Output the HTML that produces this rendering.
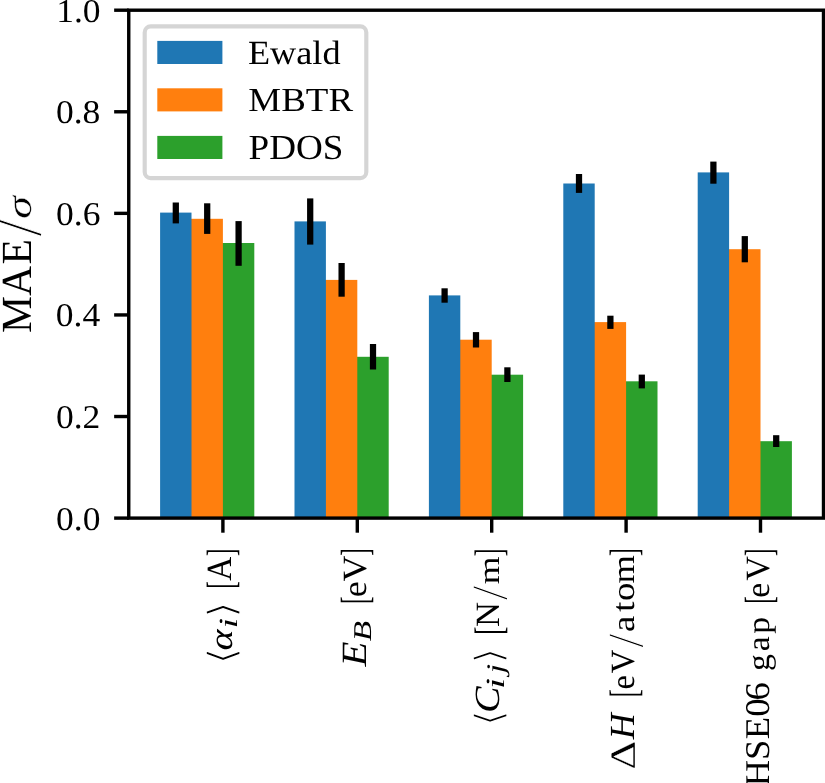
<!DOCTYPE html>
<html lang="en"><head><meta charset="utf-8"><title>MAE/σ bar chart</title>
<style>html,body{margin:0;padding:0;background:#fff}svg{display:block}text{fill:#000;text-rendering:geometricPrecision}</style></head><body>
<svg width="825" height="783" viewBox="0 0 825 783" role="img" aria-label="Bar chart of MAE/σ for Ewald, MBTR and PDOS descriptors">
<rect width="825" height="783" fill="#fff"/>
<rect x="221.9" y="243" width="32.4" height="275.1" fill="#2ca02c"/>
<rect x="190.5" y="218.8" width="32.4" height="299.3" fill="#ff7f0e"/>
<rect x="160.1" y="212.6" width="31.4" height="305.5" fill="#1f77b4"/>
<rect x="356.3" y="356.8" width="32.4" height="161.3" fill="#2ca02c"/>
<rect x="324.9" y="279.9" width="32.4" height="238.2" fill="#ff7f0e"/>
<rect x="294.5" y="221.4" width="31.4" height="296.7" fill="#1f77b4"/>
<rect x="490.7" y="374.7" width="32.4" height="143.4" fill="#2ca02c"/>
<rect x="459.3" y="339.7" width="32.4" height="178.4" fill="#ff7f0e"/>
<rect x="428.9" y="295.4" width="31.4" height="222.7" fill="#1f77b4"/>
<rect x="625.1" y="381.3" width="32.4" height="136.8" fill="#2ca02c"/>
<rect x="593.7" y="322.1" width="32.4" height="196" fill="#ff7f0e"/>
<rect x="563.3" y="183.5" width="31.4" height="334.6" fill="#1f77b4"/>
<rect x="759.5" y="441.2" width="32.4" height="76.9" fill="#2ca02c"/>
<rect x="728.1" y="249.2" width="32.4" height="268.9" fill="#ff7f0e"/>
<rect x="697.7" y="172.4" width="31.4" height="345.7" fill="#1f77b4"/>
<rect x="172.68" y="202.5" width="6.25" height="20.9" fill="#000"/>
<rect x="204.08" y="203.3" width="6.25" height="30.6" fill="#000"/>
<rect x="235.47" y="221.1" width="6.25" height="44.7" fill="#000"/>
<rect x="307.08" y="198.4" width="6.25" height="46.2" fill="#000"/>
<rect x="338.48" y="263" width="6.25" height="33.7" fill="#000"/>
<rect x="369.88" y="344" width="6.25" height="25.5" fill="#000"/>
<rect x="441.48" y="288.3" width="6.25" height="14.4" fill="#000"/>
<rect x="472.88" y="332.1" width="6.25" height="15.4" fill="#000"/>
<rect x="504.27" y="367.3" width="6.25" height="14.7" fill="#000"/>
<rect x="575.88" y="174" width="6.25" height="18.9" fill="#000"/>
<rect x="607.27" y="315.7" width="6.25" height="13.2" fill="#000"/>
<rect x="638.68" y="374.6" width="6.25" height="13.8" fill="#000"/>
<rect x="710.27" y="161.6" width="6.25" height="22.1" fill="#000"/>
<rect x="741.67" y="236.1" width="6.25" height="26.2" fill="#000"/>
<rect x="773.08" y="435.2" width="6.25" height="11.8" fill="#000"/>
<rect x="114.15" y="516.4" width="14.6" height="3.4" fill="#000"/>
<rect x="114.15" y="414.82" width="14.6" height="3.4" fill="#000"/>
<rect x="114.15" y="313.24" width="14.6" height="3.4" fill="#000"/>
<rect x="114.15" y="211.66" width="14.6" height="3.4" fill="#000"/>
<rect x="114.15" y="110.08" width="14.6" height="3.4" fill="#000"/>
<rect x="114.15" y="8.5" width="14.6" height="3.4" fill="#000"/>
<rect x="221.2" y="518.1" width="3.4" height="14.6" fill="#000"/>
<rect x="355.6" y="518.1" width="3.4" height="14.6" fill="#000"/>
<rect x="490" y="518.1" width="3.4" height="14.6" fill="#000"/>
<rect x="624.4" y="518.1" width="3.4" height="14.6" fill="#000"/>
<rect x="758.8" y="518.1" width="3.4" height="14.6" fill="#000"/>
<rect x="128.75" y="10.2" width="694.75" height="507.9" fill="none" stroke="#000" stroke-width="3.4"/>
<rect x="144.7" y="26.4" width="221.6" height="151.7" rx="6" ry="6" fill="#fff" fill-opacity="0.8" stroke="#d5d5d5" stroke-width="4.17"/>
<rect x="157.3" y="40.9" width="65.1" height="23.1" fill="#1f77b4"/>
<rect x="157.3" y="88.3" width="65.1" height="23.1" fill="#ff7f0e"/>
<rect x="157.3" y="135.9" width="65.1" height="23.1" fill="#2ca02c"/>
<text transform="matrix(1.0662 0 0 0.9978 56.06 529.8)" style='font-family:"Liberation Serif", "DejaVu Serif", serif;font-style:normal;font-size:33.33px'>0.0</text>
<text transform="matrix(1.0662 0 0 0.9978 55.97 428.12)" style='font-family:"Liberation Serif", "DejaVu Serif", serif;font-style:normal;font-size:33.33px'>0.2</text>
<text transform="matrix(1.0662 0 0 0.9978 55.79 325.95)" style='font-family:"Liberation Serif", "DejaVu Serif", serif;font-style:normal;font-size:33.33px'>0.4</text>
<text transform="matrix(1.0662 0 0 0.9978 56 224.81)" style='font-family:"Liberation Serif", "DejaVu Serif", serif;font-style:normal;font-size:33.33px'>0.6</text>
<text transform="matrix(1.0662 0 0 0.9978 55.97 123.38)" style='font-family:"Liberation Serif", "DejaVu Serif", serif;font-style:normal;font-size:33.33px'>0.8</text>
<text transform="matrix(1.0662 0 0 0.9978 56.18 21.61)" style='font-family:"Liberation Serif", "DejaVu Serif", serif;font-style:normal;font-size:33.33px'>1.0</text>
<text transform="matrix(1.0878 0 0 1.0149 247.91 64.2)" style='font-family:"Liberation Serif", "DejaVu Serif", serif;font-style:normal;font-size:33.33px'>Ewald</text>
<text transform="matrix(1.1091 0 0 1.0136 248.35 110.84)" style='font-family:"Liberation Serif", "DejaVu Serif", serif;font-style:normal;font-size:33.33px'>MBTR</text>
<text transform="matrix(1.1137 0 0 1.0562 248.49 159)" style='font-family:"Liberation Serif", "DejaVu Serif", serif;font-style:normal;font-size:33.33px'>PDOS</text>
<text transform="matrix(0 -0.9988 1.0300 0 30.95 800.06)" x="467.57 504.7 536.14" style='font-family:"Liberation Serif", "DejaVu Serif", serif;font-style:normal;font-size:41.67px'>MAE</text>
<text transform="matrix(0 -1.4857 1.5284 0 40.55 236.43)" style='font-family:"Liberation Serif", "DejaVu Serif", serif;font-style:normal;font-size:41.67px;stroke:#fff;stroke-width:0.65px'>/</text>
<text transform="matrix(0 -1.1000 0.8558 0 31.11 218.76)" style='font-family:"Liberation Serif", "DejaVu Serif", serif;font-style:italic;font-size:41.67px;stroke:#fff;stroke-width:0.4px'>σ</text>
<text transform="matrix(0 -1.3167 1.1404 0 234.72 664.51)" style='font-family:"DejaVu Serif", "DejaVu Sans", serif;font-style:normal;font-size:33.33px;stroke:#fff;stroke-width:1.1px'>⟨</text>
<text transform="matrix(0 -1.2000 0.9812 0 232.03 650.46)" style='font-family:"Liberation Serif", "DejaVu Serif", serif;font-style:italic;font-size:33.33px'>α</text>
<text transform="matrix(0 -1.5368 1.0485 0 236.5 628.41)" style='font-family:"Liberation Serif", "DejaVu Serif", serif;font-style:italic;font-size:25px'>i</text>
<text transform="matrix(0 -1.2833 1.1404 0 234.8 618.11)" style='font-family:"DejaVu Serif", "DejaVu Sans", serif;font-style:normal;font-size:33.33px;stroke:#fff;stroke-width:1.1px'>⟩</text>
<text transform="matrix(0 -0.6533 1.1856 0 233.52 588.43)" style='font-family:"Liberation Serif", "DejaVu Serif", serif;font-style:normal;font-size:33.33px'>[</text>
<text transform="matrix(0 -0.9957 1.0636 0 231 580.75)" style='font-family:"Liberation Serif", "DejaVu Serif", serif;font-style:normal;font-size:33.33px'>A</text>
<text transform="matrix(0 -0.6600 1.1856 0 233.52 555.88)" style='font-family:"Liberation Serif", "DejaVu Serif", serif;font-style:normal;font-size:33.33px'>]</text>
<text transform="matrix(0 -1.2300 1.0667 0 366.1 666.49)" style='font-family:"Liberation Serif", "DejaVu Serif", serif;font-style:italic;font-size:33.33px'>E</text>
<text transform="matrix(0 -1.3310 1.0242 0 370.8 641.23)" style='font-family:"Liberation Serif", "DejaVu Serif", serif;font-style:italic;font-size:25px'>B</text>
<text transform="matrix(0 -0.6933 1.1820 0 368.48 604.03)" style='font-family:"Liberation Serif", "DejaVu Serif", serif;font-style:normal;font-size:33.33px'>[</text>
<text transform="matrix(0 -1.0778 1.0200 0 366.14 800.2)" x="188.41 202.84" style='font-family:"Liberation Serif", "DejaVu Serif", serif;font-style:normal;font-size:33.33px'>eV</text>
<text transform="matrix(0 -0.6667 1.1820 0 368.46 555.87)" style='font-family:"Liberation Serif", "DejaVu Serif", serif;font-style:normal;font-size:33.33px'>]</text>
<text transform="matrix(0 -1.2333 1.1404 0 502 725.91)" style='font-family:"DejaVu Serif", "DejaVu Sans", serif;font-style:normal;font-size:33.33px;stroke:#fff;stroke-width:1.1px'>⟨</text>
<text transform="matrix(0 -1.1952 1.0607 0 499 712.9)" style='font-family:"Liberation Serif", "DejaVu Serif", serif;font-style:italic;font-size:33.33px'>C</text>
<text transform="matrix(0 -1.6000 1.0485 0 504.12 689.12)" style='font-family:"Liberation Serif", "DejaVu Serif", serif;font-style:italic;font-size:25px'>i</text>
<text transform="matrix(0 -1.4000 1.0115 0 503.69 673.45)" style='font-family:"Liberation Serif", "DejaVu Serif", serif;font-style:italic;font-size:25px'>j</text>
<text transform="matrix(0 -1.2333 1.1404 0 501.99 663.77)" style='font-family:"DejaVu Serif", "DejaVu Sans", serif;font-style:normal;font-size:33.33px;stroke:#fff;stroke-width:1.1px'>⟩</text>
<text transform="matrix(0 -0.7333 1.1928 0 501.83 634.83)" style='font-family:"Liberation Serif", "DejaVu Serif", serif;font-style:normal;font-size:33.33px'>[</text>
<text transform="matrix(0 -1.0382 1.0207 0 498.96 627.04)" style='font-family:"Liberation Serif", "DejaVu Serif", serif;font-style:normal;font-size:33.33px'>N</text>
<text transform="matrix(0 -1.5879 1.5395 0 507.2 600.19)" style='font-family:"Liberation Serif", "DejaVu Serif", serif;font-style:normal;font-size:33.33px;stroke:#fff;stroke-width:0.7px'>/</text>
<text transform="matrix(0 -1.0707 0.9079 0 499.17 584.3)" style='font-family:"Liberation Serif", "DejaVu Serif", serif;font-style:normal;font-size:33.33px'>m</text>
<text transform="matrix(0 -0.6933 1.1928 0 501.83 556.17)" style='font-family:"Liberation Serif", "DejaVu Serif", serif;font-style:normal;font-size:33.33px'>]</text>
<text transform="matrix(0 -1.3459 1.0837 0 634.57 769.82)" style='font-family:"Liberation Serif", "DejaVu Serif", serif;font-style:normal;font-size:33.33px;stroke:#fff;stroke-width:0.3px'>Δ</text>
<text transform="matrix(0 -1.0757 1.0575 0 634.3 739.13)" style='font-family:"Liberation Serif", "DejaVu Serif", serif;font-style:italic;font-size:33.33px'>H</text>
<text transform="matrix(0 -0.7600 1.1892 0 637.15 697.4)" style='font-family:"Liberation Serif", "DejaVu Serif", serif;font-style:normal;font-size:33.33px'>[</text>
<text transform="matrix(0 -0.9806 1.0200 0 634.3 800)" x="112.69 129.25" style='font-family:"Liberation Serif", "DejaVu Serif", serif;font-style:normal;font-size:33.33px'>eV</text>
<text transform="matrix(0 -1.5273 1.5349 0 642.5 647.66)" style='font-family:"Liberation Serif", "DejaVu Serif", serif;font-style:normal;font-size:33.33px;stroke:#fff;stroke-width:0.7px'>/</text>
<text transform="matrix(0 -1.0963 0.9600 0 634.3 800)" x="153.2 171.74 181.63 197.49" style='font-family:"Liberation Serif", "DejaVu Serif", serif;font-style:normal;font-size:33.33px'>atom</text>
<text transform="matrix(0 -0.6933 1.1892 0 637.15 556.07)" style='font-family:"Liberation Serif", "DejaVu Serif", serif;font-style:normal;font-size:33.33px'>]</text>
<text transform="matrix(0 -1.1000 1.0400 0 769.3 800)" x="12.32 36.44 55.22 75.63 90.56" style='font-family:"Liberation Serif", "DejaVu Serif", serif;font-style:normal;font-size:33.33px'>HSE06</text>
<text transform="matrix(0 -1.0118 0.9500 0 768.9 799.89)" x="127.3 147.03 164.32" style='font-family:"Liberation Serif", "DejaVu Serif", serif;font-style:normal;font-size:33.33px'>gap</text>
<text transform="matrix(0 -0.6933 1.1820 0 772.15 603.86)" style='font-family:"Liberation Serif", "DejaVu Serif", serif;font-style:normal;font-size:33.33px'>[</text>
<text transform="matrix(0 -1.0111 1.0200 0 769.05 800.19)" x="200.34 217.3" style='font-family:"Liberation Serif", "DejaVu Serif", serif;font-style:normal;font-size:33.33px'>eV</text>
<text transform="matrix(0 -0.6800 1.1820 0 771.68 555.95)" style='font-family:"Liberation Serif", "DejaVu Serif", serif;font-style:normal;font-size:33.33px'>]</text>
</svg></body></html>
